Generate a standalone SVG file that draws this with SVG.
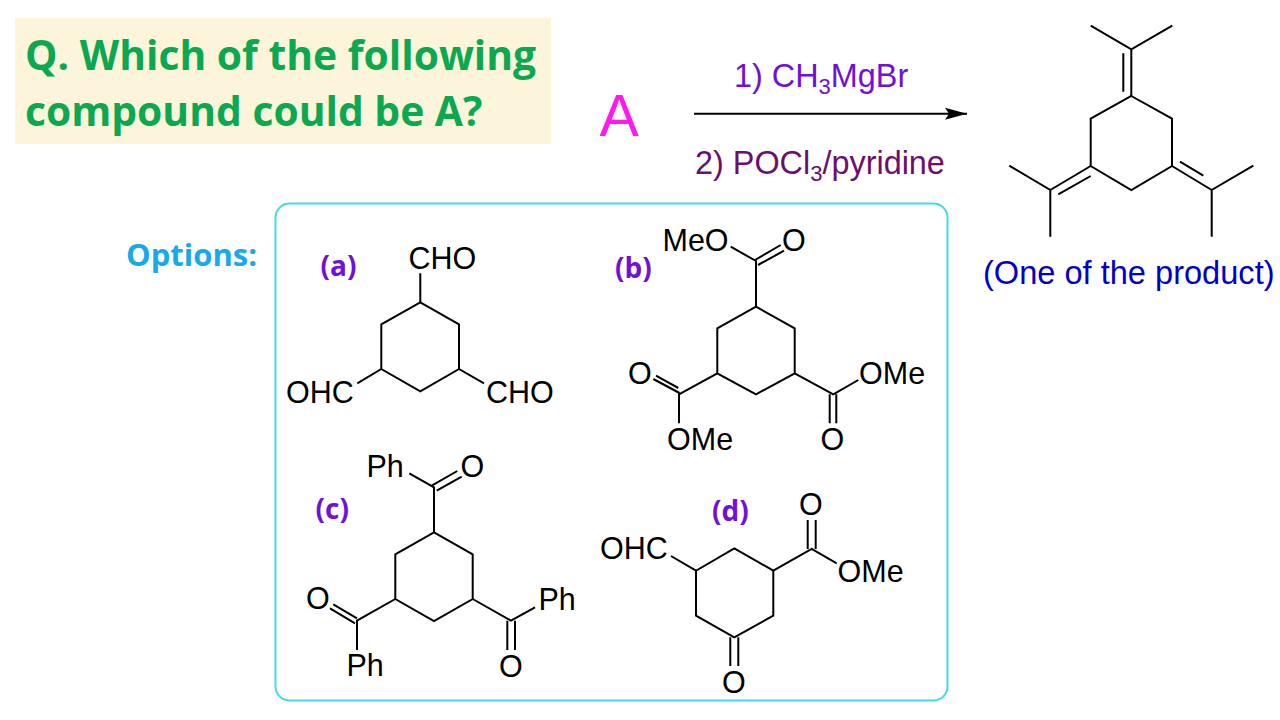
<svg xmlns="http://www.w3.org/2000/svg" width="1280" height="720" viewBox="0 0 1280 720">
<style>
.b{fill:none;stroke:#000;stroke-width:2;stroke-linejoin:miter;stroke-linecap:butt}
.t{font-family:"Liberation Sans",Arial,sans-serif;font-size:30.500px;fill:#000}
.l{font-family:"Open Sans",sans-serif;font-weight:700;font-size:28px;fill:#7010d8}
.h{font-family:"Open Sans",sans-serif;font-weight:700;font-size:40.800px;fill:#0aa84f}
.r{font-family:"Liberation Sans",Arial,sans-serif;font-size:32.400px}
</style>
<defs>
<marker id="ah" markerUnits="userSpaceOnUse" markerWidth="24" markerHeight="14" refX="22" refY="7" orient="auto"><path d="M0 1L22 7L0 13L4 7Z" fill="#000"/></marker>
</defs>
<rect width="1280" height="720" fill="#fff"/>
<g id="question">
<rect x="15" y="18" width="536" height="126" fill="#fdf4dc"/>
<text class="h" x="25" y="70">Q. Which of the following</text>
<text class="h" x="25" y="126">compound could be A?</text>
</g>
<g id="reactant-A"><text x="599.500" y="136" font-family="Liberation Sans,Arial,sans-serif" font-size="59" fill="#ff19f0">A</text></g>
<g id="connectors">
<line x1="694" y1="113.7" x2="967" y2="113.7" stroke="#000" stroke-width="2" marker-end="url(#ah)"/>
</g>
<g id="reagents">
<text class="r" x="734" y="87" fill="#7010d8">1) CH<tspan font-size="22" dy="7">3</tspan><tspan dy="-7">MgBr</tspan></text>
<text class="r" x="695" y="174" fill="#6a0f70">2) POCl<tspan font-size="22" dy="7">3</tspan><tspan dy="-7">/pyridine</tspan></text>
</g>
<g id="product">
<path class="b" d="M1131.300 96L1172 118.700V166L1131.300 190L1090.700 166V118.700Z"/>
<path class="b" d="M1131.300 96V49.300M1090.700 25.700L1131.300 49.300L1172.300 25.700M1123.300 53.300V91.700"/>
<path class="b" d="M1172 166L1211.700 190M1253.300 165.700L1211.700 190V236.700M1180 161.700L1203.300 175.700"/>
<path class="b" d="M1090.700 166L1050.300 190M1009.300 165.700L1050.300 190V236.700M1090.700 176L1058.300 194.300"/>
<text x="983" y="284" font-family="Liberation Sans,Arial,sans-serif" font-size="32.600" fill="#0000c8">(One of the product)</text>
</g>
<g id="options-label"><text x="126" y="266" font-family="Open Sans,sans-serif" font-weight="700" font-size="31" fill="#17a9e8">Options:</text></g>
<rect id="options-box" x="275.500" y="203.500" width="672" height="497" rx="14" fill="none" stroke="#3fdce6" stroke-width="2"/>
<g id="option-a">
<text class="l" x="320.500" y="276">(a)</text>
<path class="b" d="M420.300 302.300L459 324.300V369L420.300 391.300L381.300 369V324.300Z"/>
<path class="b" d="M420.300 302.300V273.300M381.300 369L357.300 383.300M459 369L484 383.300"/>
<text class="t" x="408.500" y="269">CHO</text>
<text class="t" x="286" y="402.500">OHC</text>
<text class="t" x="486" y="402.500">CHO</text>
</g>
<g id="option-b">
<text class="l" x="615" y="278">(b)</text>
<path class="b" d="M756 306.700L794.700 328.300V373.300L756 394.300L717.300 373.300V328.300Z"/>
<path class="b" d="M756 306.700V261L730.700 246.700M755 260L780.700 245M758 265L784 250.700"/>
<path class="b" d="M717.300 373.300L679 394.300V423.300M679.500 393L653.300 379M678.300 388L656 375.700"/>
<path class="b" d="M794.700 373.300L833.300 394.300L858.300 380M829.700 394.300V423.300M836.300 394.300V423.300"/>
<text class="t" x="662.500" y="251">MeO</text>
<text class="t" x="782" y="251">O</text>
<text class="t" x="628" y="383.500">O</text>
<text class="t" x="667" y="450">OMe</text>
<text class="t" x="859" y="383.500">OMe</text>
<text class="t" x="820.500" y="450">O</text>
</g>
<g id="option-c">
<text class="l" x="315.500" y="519">(c)</text>
<path class="b" d="M434 532.300L472.700 554.300V599L434 621L395.300 599V554.300Z"/>
<path class="b" d="M434 532.300V487.300L409.300 473.300M431.700 485.700L457.300 471M436.700 490.700L461.700 476.700"/>
<path class="b" d="M395.300 599L357 620.700V650M357 618.300L333.300 604.300M355 623.300L330 608.300"/>
<path class="b" d="M472.700 599L511 620.700L535 607.300M507.300 620.700V650M515 620.700V650"/>
<text class="t" x="366.500" y="476.500">Ph</text>
<text class="t" x="460.500" y="476.500">O</text>
<text class="t" x="306" y="609">O</text>
<text class="t" x="346.500" y="676">Ph</text>
<text class="t" x="538.500" y="610">Ph</text>
<text class="t" x="499" y="676.500">O</text>
</g>
<g id="option-d">
<text class="l" x="712" y="521">(d)</text>
<path class="b" d="M734.300 548.300L773.300 570.700V615.700L734.300 637.300L696 615.700V570.700Z"/>
<path class="b" d="M696 570.700L671 556M773.300 570.700L811.700 549L836.700 563.300M807.700 549V520M815.700 549V520M730.300 637.300V666M738.300 637.300V666"/>
<text class="t" x="600" y="559">OHC</text>
<text class="t" x="799" y="515">O</text>
<text class="t" x="837.500" y="581.500">OMe</text>
<text class="t" x="722" y="692.500">O</text>
</g>
</svg>
